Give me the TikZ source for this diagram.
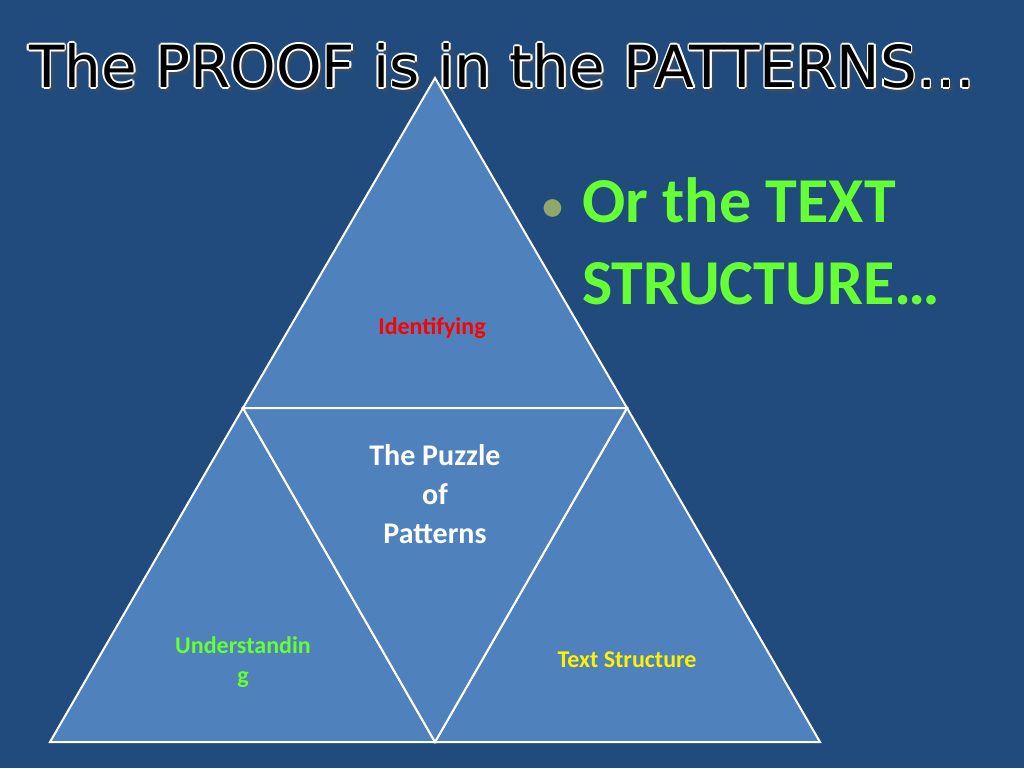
\documentclass[tikz,border=0pt]{standalone}
\usepackage{fontspec}
\setmainfont{Carlito}
\newfontfamily\titlefont{DejaVu Sans}
\usetikzlibrary{positioning}
\definecolor{bgBlue}{HTML}{214A7D}
\definecolor{triBlue}{HTML}{4F81BD}
\definecolor{brightGreen}{HTML}{66FF33}
\definecolor{bulletGrey}{HTML}{8FA86A}
\tikzset{
  piece/.style={fill=triBlue, draw=white, line width=2pt, line join=miter},
  label/.style={font=\bfseries\fontsize{24}{30}\selectfont, align=center},
  titletext/.style={font=\titlefont\fontsize{58}{60}\selectfont, inner sep=0pt},
  greentext/.style={anchor=base west, inner sep=0pt, text=brightGreen,
        font=\bfseries\fontsize{64}{64}\selectfont}
}
\begin{document}
\begin{tikzpicture}[x=1pt,y=-1pt]
  \fill[bgBlue] (0,0) rectangle (1024,768);
  \useasboundingbox (0,0) rectangle (1024,768);
  % corners
  \coordinate (top) at (435,78);
  \coordinate (ml) at (243,408);
  \coordinate (mr) at (627,408);
  \coordinate (bl) at (50,742);
  \coordinate (bm) at (435,742);
  \coordinate (br) at (820,742);
  % four pieces
  \draw[piece] (top) -- (mr) -- (ml) -- cycle;
  \draw[piece] (ml) -- (bm) -- (bl) -- cycle;
  \draw[piece] (mr) -- (br) -- (bm) -- cycle;
  \draw[piece] (ml) -- (mr) -- (bm) -- cycle;
  % labels
  \node[label, text=red] (ident) at (432,328) {Identifying};
  \node[label, text=white, font=\bfseries\fontsize{30}{39}\selectfont] (puzzle) at (435,494) {The Puzzle\\of\\Patterns};
  \node[label, text=brightGreen] (under) at (243,662) {Understandin\\g};
  \node[label, text=yellow] (struct) at (627,660) {Text Structure};
  % bullet
  \node[anchor=base west, inner sep=0pt, text=bulletGrey, font=\fontsize{50}{50}\selectfont] (dot) at (540,222) {•};
  \node[greentext] (line1) at (582,222) {Or the TEXT};
  \node[greentext] (line2) at (582,304) {STRUCTURE…};
  % title: shadow, white outline, black fill
  \node[titletext, text=black!70, opacity=0.5] (shadow) at (506,71) {The PROOF is in the PATTERNS…};
  \foreach \dx/\dy in {-1.8/0,1.8/0,0/-1.8,0/1.8,-1.3/-1.3,1.3/1.3,-1.3/1.3,1.3/-1.3}
    \node[titletext, text=white] at (502+\dx,66+\dy) {The PROOF is in the PATTERNS…};
  \node[titletext, text=black] (title) at (502,66) {The PROOF is in the PATTERNS…};
\end{tikzpicture}
\end{document}
